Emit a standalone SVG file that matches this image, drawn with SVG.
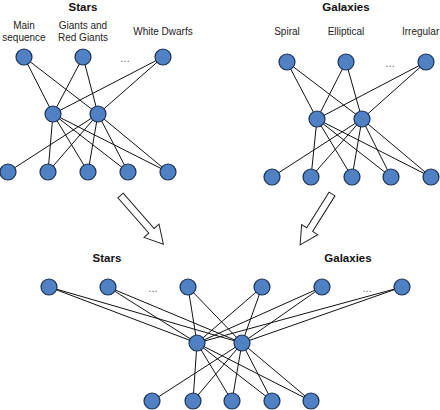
<svg xmlns="http://www.w3.org/2000/svg" width="440" height="410" viewBox="0 0 440 410">
<style>
.n{fill:#4f81c4;stroke:#1c3050;stroke-width:1.2}
.e{stroke:#111;stroke-width:1;fill:none}
.t{font-family:"Liberation Sans",Arial,sans-serif;font-size:11.5px;font-weight:bold;fill:#111;text-anchor:middle}
.l{font-family:"Liberation Sans",Arial,sans-serif;font-size:10px;fill:#222;text-anchor:middle}
.d{font-family:"Liberation Sans",Arial,sans-serif;font-size:10px;fill:#555;text-anchor:middle}
.a{fill:#fff;stroke:#222;stroke-width:1}
</style>
<rect width="440" height="410" fill="#fff"/>
<g id="titles">
<text class="t" x="83" y="11">Stars</text>
<text class="t" x="346" y="11">Galaxies</text>
<text class="t" x="107" y="262">Stars</text>
<text class="t" x="348" y="262">Galaxies</text>
</g>
<g id="connectors">
<g class="e">
<!-- top-left stars -->
<line x1="24" y1="57" x2="53" y2="114"/><line x1="24" y1="57" x2="98" y2="114"/>
<line x1="83" y1="57" x2="53" y2="114"/><line x1="83" y1="57" x2="98" y2="114"/>
<line x1="163" y1="57" x2="53" y2="114"/><line x1="163" y1="57" x2="98" y2="114"/>
<line x1="53" y1="114" x2="48" y2="172"/><line x1="53" y1="114" x2="88" y2="172"/><line x1="53" y1="114" x2="128" y2="172"/><line x1="53" y1="114" x2="168" y2="172"/>
<line x1="98" y1="114" x2="8" y2="172"/><line x1="98" y1="114" x2="48" y2="172"/><line x1="98" y1="114" x2="88" y2="172"/><line x1="98" y1="114" x2="128" y2="172"/><line x1="98" y1="114" x2="168" y2="172"/>
<!-- top-right galaxies -->
<line x1="287" y1="62" x2="317" y2="119"/><line x1="287" y1="62" x2="362" y2="119"/>
<line x1="346" y1="62" x2="317" y2="119"/><line x1="346" y1="62" x2="362" y2="119"/>
<line x1="426" y1="62" x2="317" y2="119"/><line x1="426" y1="62" x2="362" y2="119"/>
<line x1="317" y1="119" x2="311" y2="177"/><line x1="317" y1="119" x2="352" y2="177"/><line x1="317" y1="119" x2="391" y2="177"/><line x1="317" y1="119" x2="431" y2="177"/>
<line x1="362" y1="119" x2="272" y2="177"/><line x1="362" y1="119" x2="311" y2="177"/><line x1="362" y1="119" x2="352" y2="177"/><line x1="362" y1="119" x2="391" y2="177"/><line x1="362" y1="119" x2="431" y2="177"/>
<!-- bottom combined -->
<line x1="49" y1="287" x2="197" y2="343"/><line x1="49" y1="287" x2="242" y2="343"/>
<line x1="108" y1="287" x2="197" y2="343"/><line x1="108" y1="287" x2="242" y2="343"/>
<line x1="188" y1="287" x2="197" y2="343"/><line x1="188" y1="287" x2="242" y2="343"/>
<line x1="262" y1="287" x2="197" y2="343"/><line x1="262" y1="287" x2="242" y2="343"/>
<line x1="322" y1="287" x2="197" y2="343"/><line x1="322" y1="287" x2="242" y2="343"/>
<line x1="402" y1="287" x2="197" y2="343"/><line x1="402" y1="287" x2="242" y2="343"/>
<line x1="197" y1="343" x2="193" y2="401"/><line x1="197" y1="343" x2="232" y2="401"/><line x1="197" y1="343" x2="272" y2="401"/><line x1="197" y1="343" x2="311" y2="401"/>
<line x1="242" y1="343" x2="152" y2="401"/><line x1="242" y1="343" x2="193" y2="401"/><line x1="242" y1="343" x2="232" y2="401"/><line x1="242" y1="343" x2="272" y2="401"/><line x1="242" y1="343" x2="311" y2="401"/>
</g>
<polygon class="a" transform="translate(120.5,195.5) rotate(48.7)" points="0,-3.5 47,-3.5 47,-10 65,0 47,10 47,3.5 0,3.5"/>
<polygon class="a" transform="translate(332,194) rotate(122.1)" points="0,-3.5 42,-3.5 42,-9.5 60,0 42,9.5 42,3.5 0,3.5"/>
</g>
<g id="dots">
<text class="d" x="125" y="62">…</text>
<text class="d" x="390" y="67">…</text>
<text class="d" x="153" y="292">…</text>
<text class="d" x="367" y="292">…</text>
</g>
<!-- top-left stars nodes -->
<g id="s-main"><text class="l" x="24" y="29">Main</text><text class="l" x="24" y="41">sequence</text><circle class="n" cx="24" cy="57" r="8"/></g>
<g id="s-giants"><text class="l" x="83" y="29">Giants and</text><text class="l" x="83" y="41">Red Giants</text><circle class="n" cx="83" cy="57" r="8"/></g>
<g id="s-white"><text class="l" x="163" y="35">White Dwarfs</text><circle class="n" cx="163" cy="57" r="8"/></g>
<g id="s-h1"><circle class="n" cx="53" cy="114" r="8"/></g>
<g id="s-h2"><circle class="n" cx="98" cy="114" r="8"/></g>
<g id="s-o1"><circle class="n" cx="8" cy="172" r="8"/></g>
<g id="s-o2"><circle class="n" cx="48" cy="172" r="8"/></g>
<g id="s-o3"><circle class="n" cx="88" cy="172" r="8"/></g>
<g id="s-o4"><circle class="n" cx="128" cy="172" r="8"/></g>
<g id="s-o5"><circle class="n" cx="168" cy="172" r="8"/></g>
<!-- top-right galaxies nodes -->
<g id="g-spiral"><text class="l" x="287" y="35">Spiral</text><circle class="n" cx="287" cy="62" r="8"/></g>
<g id="g-elliptical"><text class="l" x="346" y="35">Elliptical</text><circle class="n" cx="346" cy="62" r="8"/></g>
<g id="g-irregular"><text class="l" x="402" y="35" style="text-anchor:start">Irregular</text><circle class="n" cx="426" cy="62" r="8"/></g>
<g id="g-h1"><circle class="n" cx="317" cy="119" r="8"/></g>
<g id="g-h2"><circle class="n" cx="362" cy="119" r="8"/></g>
<g id="g-o1"><circle class="n" cx="272" cy="177" r="8"/></g>
<g id="g-o2"><circle class="n" cx="311" cy="177" r="8"/></g>
<g id="g-o3"><circle class="n" cx="352" cy="177" r="8"/></g>
<g id="g-o4"><circle class="n" cx="391" cy="177" r="8"/></g>
<g id="g-o5"><circle class="n" cx="431" cy="177" r="8"/></g>
<!-- bottom combined nodes -->
<g id="c-i1"><circle class="n" cx="49" cy="287" r="8"/></g>
<g id="c-i2"><circle class="n" cx="108" cy="287" r="8"/></g>
<g id="c-i3"><circle class="n" cx="188" cy="287" r="8"/></g>
<g id="c-i4"><circle class="n" cx="262" cy="287" r="8"/></g>
<g id="c-i5"><circle class="n" cx="322" cy="287" r="8"/></g>
<g id="c-i6"><circle class="n" cx="402" cy="287" r="8"/></g>
<g id="c-h1"><circle class="n" cx="197" cy="343" r="8"/></g>
<g id="c-h2"><circle class="n" cx="242" cy="343" r="8"/></g>
<g id="c-o1"><circle class="n" cx="152" cy="401" r="8"/></g>
<g id="c-o2"><circle class="n" cx="193" cy="401" r="8"/></g>
<g id="c-o3"><circle class="n" cx="232" cy="401" r="8"/></g>
<g id="c-o4"><circle class="n" cx="272" cy="401" r="8"/></g>
<g id="c-o5"><circle class="n" cx="311" cy="401" r="8"/></g>
</svg>
